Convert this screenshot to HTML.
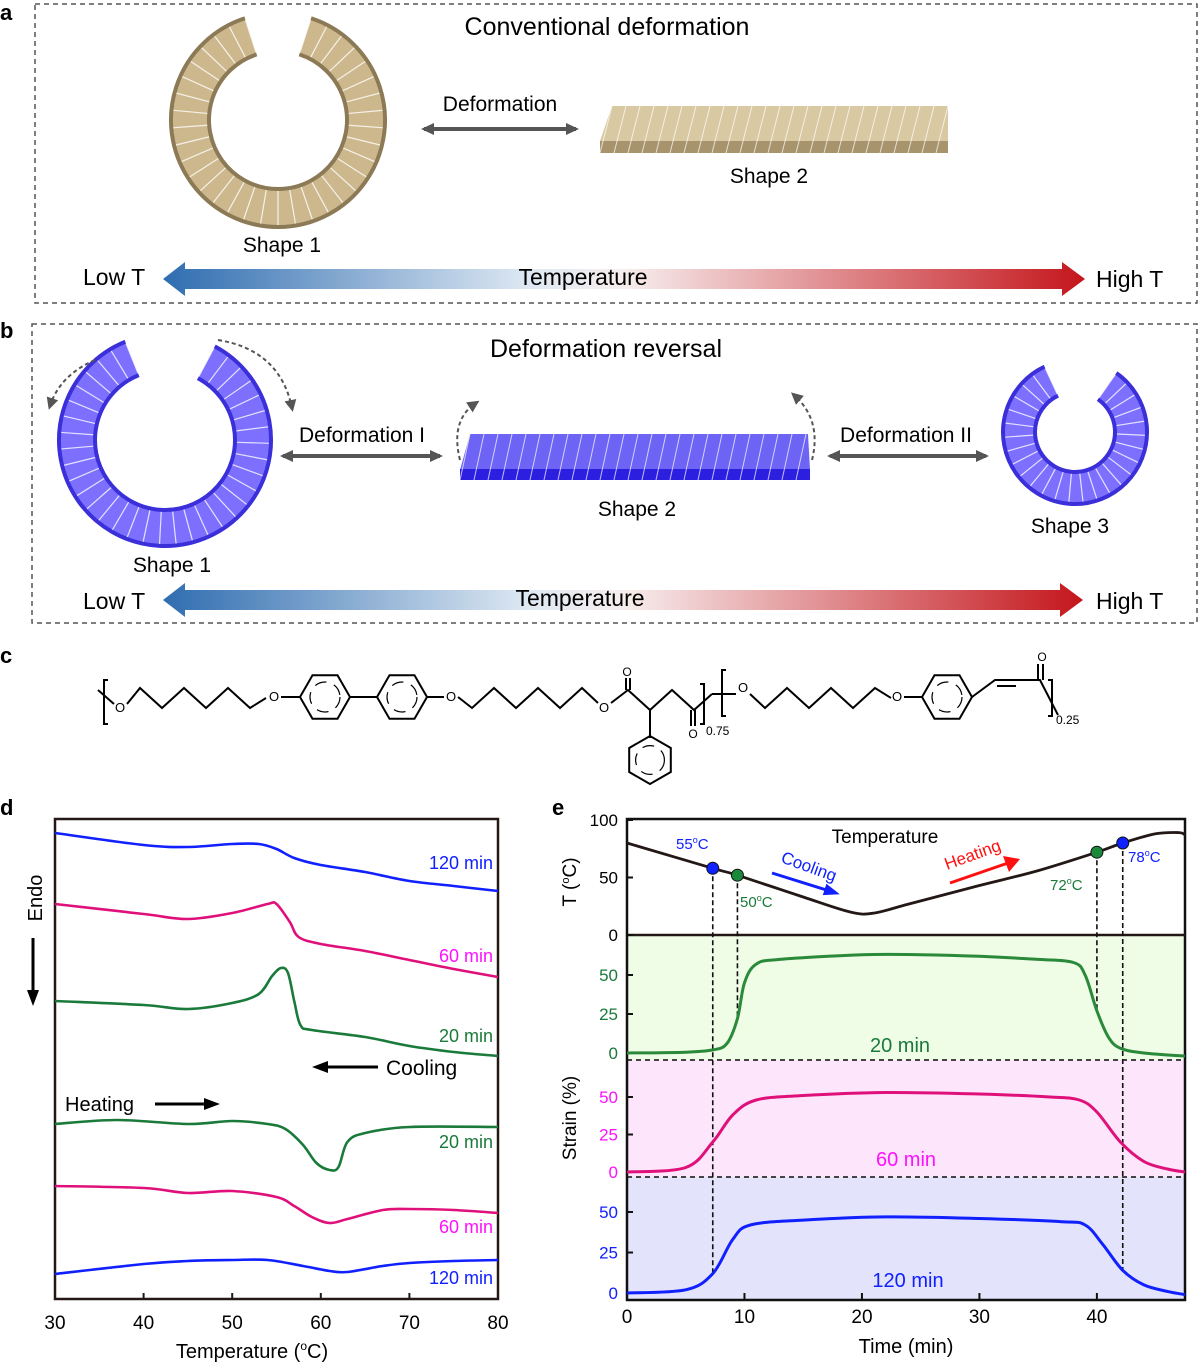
<!DOCTYPE html>
<html><head><meta charset="utf-8">
<style>
html,body{margin:0;padding:0;background:#fff;}
svg{display:block;font-family:"Liberation Sans",Arial,sans-serif;}
</style></head>
<body>
<svg id="fig" width="1200" height="1363" viewBox="0 0 1200 1363" xmlns="http://www.w3.org/2000/svg">
<defs>
<linearGradient id="tg" x1="0" x2="1" y1="0" y2="0">
<stop offset="0" stop-color="#2f6db0"/><stop offset="0.4" stop-color="#dfe9f3"/><stop offset="0.5" stop-color="#f7eeee"/><stop offset="1" stop-color="#c4161c"/>
</linearGradient>
<marker id="ah" markerUnits="userSpaceOnUse" markerWidth="14" markerHeight="14" refX="10" refY="7" orient="auto-start-reverse"><path d="M0,1 L13,7 L0,13 z" fill="#555"/></marker>
<marker id="ahs" markerUnits="userSpaceOnUse" markerWidth="12" markerHeight="12" refX="8" refY="6" orient="auto"><path d="M0,0 L12,6 L0,12 z" fill="#555"/></marker>
<marker id="ahk" markerUnits="userSpaceOnUse" markerWidth="16" markerHeight="14" refX="12" refY="7" orient="auto"><path d="M0,1 L16,7 L0,13 z" fill="#000"/></marker>
<marker id="ahb" markerUnits="userSpaceOnUse" markerWidth="16" markerHeight="14" refX="12" refY="7" orient="auto"><path d="M0,1 L16,7 L0,13 z" fill="#1020ff"/></marker>
</defs>

<!-- Panel a -->
<g>
<text x="0" y="20" font-size="22" font-weight="bold">a</text>
<rect x="35" y="4" width="1162" height="299" fill="none" stroke="#555" stroke-width="1.5" stroke-dasharray="5,4"/>
<text x="607" y="35" font-size="25" text-anchor="middle">Conventional deformation</text>
<g id="ringA"></g>
<text x="282" y="252" font-size="21" text-anchor="middle">Shape 1</text>
<line x1="424" y1="129" x2="576" y2="129" stroke="#555" stroke-width="4" marker-end="url(#ah)" marker-start="url(#ah)"/>
<text x="500" y="111" font-size="21" text-anchor="middle">Deformation</text>
<g>
<polygon points="600,141 612,106 948,106 948,141" fill="#d9c9a2"/>
<rect x="600" y="141" width="348" height="12" fill="#a8946c"/>
<g id="slabA"></g>
</g>
<text x="769" y="183" font-size="21" text-anchor="middle">Shape 2</text>
<polygon points="185,269 1062,269 1062,262 1085,279 1062,296 1062,289 185,289 185,296 163,279 185,262" fill="url(#tg)"/>
<text x="583" y="285" font-size="23" text-anchor="middle">Temperature</text>
<text x="83" y="285" font-size="23">Low T</text>
<text x="1096" y="287" font-size="23">High T</text>
</g>

<!-- Panel b -->
<g>
<text x="0" y="338" font-size="22" font-weight="bold">b</text>
<rect x="32" y="324" width="1165" height="299" fill="none" stroke="#555" stroke-width="1.5" stroke-dasharray="5,4"/>
<text x="606" y="357" font-size="25" text-anchor="middle">Deformation reversal</text>
<g id="ringB1"></g>
<g id="ringB3"></g>
<path d="M95,360 Q60,375 50,406" fill="none" stroke="#555" stroke-width="2" stroke-dasharray="4,3" marker-end="url(#ahs)"/>
<path d="M218,340 Q280,350 292,408" fill="none" stroke="#555" stroke-width="2" stroke-dasharray="4,3" marker-end="url(#ahs)"/>
<path d="M460,460 Q450,420 476,403" fill="none" stroke="#555" stroke-width="2" stroke-dasharray="4,3" marker-end="url(#ahs)"/>
<path d="M812,460 Q822,420 794,395" fill="none" stroke="#555" stroke-width="2" stroke-dasharray="4,3" marker-end="url(#ahs)"/>
<line x1="283" y1="456" x2="440" y2="456" stroke="#555" stroke-width="4" marker-end="url(#ah)" marker-start="url(#ah)"/>
<text x="362" y="442" font-size="21" text-anchor="middle">Deformation I</text>
<line x1="830" y1="456" x2="986" y2="456" stroke="#555" stroke-width="4" marker-end="url(#ah)" marker-start="url(#ah)"/>
<text x="906" y="442" font-size="21" text-anchor="middle">Deformation II</text>
<g>
<polygon points="460,470 470,434 808,434 810,470" fill="#6d63f5"/>
<rect x="460" y="469" width="350" height="11" fill="#2d1fe0"/>
<g id="slabB"></g>
</g>
<text x="637" y="516" font-size="21" text-anchor="middle">Shape 2</text>
<text x="172" y="572" font-size="21" text-anchor="middle">Shape 1</text>
<text x="1070" y="533" font-size="21" text-anchor="middle">Shape 3</text>
<polygon points="185,590 1060,590 1060,583 1083,600 1060,617 1060,610 185,610 185,617 163,600 185,583" fill="url(#tg)"/>
<text x="580" y="606" font-size="23" text-anchor="middle">Temperature</text>
<text x="83" y="609" font-size="23">Low T</text>
<text x="1096" y="609" font-size="23">High T</text>
</g>

<!-- Panel c -->
<g stroke="#000" stroke-width="2" fill="none" font-size="13">
<text x="0" y="663" font-size="22" font-weight="bold" fill="#000" stroke="none">c</text>
<path d="M108,680 L104,680 L104,724 L108,724 M700,684 L704,684 L704,724 L700,724 M726,670 L722,670 L722,716 L726,716 M1048,680 L1052,680 L1052,716 L1048,716"/>
<polyline points="98,690 114,704"/>
<polyline points="127,704 140,688 162,708 184,688 206,708 228,688 250,708 266,698"/>
<polyline points="281,697 300,697"/>
<polyline points="350,697 377,697"/>
<polyline points="427,697 444,697"/>
<polyline points="458,697 472,708 494,688 516,708 538,688 560,708 582,688 598,703"/>
<polyline points="611,703 628,690 650,710 672,690 694,710 712,694"/>
<line x1="626" y1="690" x2="626" y2="678"/><line x1="630" y1="690" x2="630" y2="678"/>
<line x1="691" y1="710" x2="691" y2="726"/><line x1="695" y1="710" x2="695" y2="726"/>
<line x1="650" y1="710" x2="650" y2="738"/>
<polyline points="712,694 736,694"/>
<polyline points="750,694 765,708 787,688 809,708 831,688 853,708 875,688 891,698"/>
<polyline points="904,697 922,697"/>
<polyline points="972,697 995,680 1018,680 1040,680 1058,715"/>
<line x1="997" y1="686" x2="1016" y2="686"/>
<line x1="1038" y1="680" x2="1038" y2="664"/><line x1="1043" y1="680" x2="1043" y2="664"/>
<g id="hexes"></g>
<g stroke="none" fill="#000">
<text x="120" y="712" text-anchor="middle">O</text>
<text x="274" y="701" text-anchor="middle">O</text>
<text x="451" y="701" text-anchor="middle">O</text>
<text x="604" y="712" text-anchor="middle">O</text>
<text x="627" y="676" text-anchor="middle" font-size="12">O</text>
<text x="693" y="738" text-anchor="middle" font-size="12">O</text>
<text x="743" y="692" text-anchor="middle">O</text>
<text x="897" y="701" text-anchor="middle">O</text>
<text x="1042" y="661" text-anchor="middle" font-size="12">O</text>
<text x="706" y="735" font-size="12">0.75</text>
<text x="1056" y="724" font-size="12">0.25</text>
</g>
</g>

<!-- Panel d -->
<g>
<text x="0" y="815" font-size="22" font-weight="bold">d</text>
<rect x="55" y="819" width="443" height="480" fill="none" stroke="#231815" stroke-width="2.5"/>
<g id="dAxis"></g>
<g id="dCurves"></g>
<text x="252" y="1358" font-size="20" text-anchor="middle">Temperature (<tspan font-size="12" dy="-8">o</tspan><tspan dy="8">C)</tspan></text>
<text transform="translate(42,898) rotate(-90)" font-size="20" text-anchor="middle">Endo</text>
<line x1="33" y1="938" x2="33" y2="1002" stroke="#000" stroke-width="3" marker-end="url(#ahk)"/>
<line x1="378" y1="1067" x2="316" y2="1067" stroke="#000" stroke-width="3" marker-end="url(#ahk)"/>
<text x="386" y="1075" font-size="21">Cooling</text>
<text x="65" y="1111" font-size="20">Heating</text>
<line x1="155" y1="1104" x2="216" y2="1104" stroke="#000" stroke-width="3" marker-end="url(#ahk)"/>
</g>

<!-- Panel e -->
<g>
<text x="552" y="815" font-size="22" font-weight="bold">e</text>
<rect x="627" y="935" width="558" height="125" fill="#effce6"/>
<rect x="627" y="1060" width="558" height="117" fill="#fde6fb"/>
<rect x="627" y="1177" width="558" height="123" fill="#e3e3fb"/>
<line x1="627" y1="1060" x2="1185" y2="1060" stroke="#444" stroke-width="2" stroke-dasharray="5,4"/>
<line x1="627" y1="1177" x2="1185" y2="1177" stroke="#444" stroke-width="2" stroke-dasharray="5,4"/>
<rect x="627" y="819" width="558" height="481" fill="none" stroke="#111" stroke-width="2.5"/>
<line x1="627" y1="935" x2="1185" y2="935" stroke="#231815" stroke-width="2.5"/>
<g id="eAxis"></g>
<g id="eCurves"></g>
<text x="885" y="843" font-size="19" text-anchor="middle">Temperature</text>
<text transform="translate(576,882) rotate(-90)" font-size="19" text-anchor="middle">T (<tspan font-size="11" dy="-7">o</tspan><tspan dy="7">C)</tspan></text>
<text transform="translate(576,1118) rotate(-90)" font-size="19" text-anchor="middle">Strain (%)</text>
<text x="906" y="1353" font-size="20" text-anchor="middle">Time (min)</text>
<line x1="772" y1="873" x2="836" y2="893" stroke="#1020ff" stroke-width="3" marker-end="url(#ahb)"/>
<text transform="translate(780,862) rotate(20)" font-size="17" fill="#1020ff">Cooling</text>
<line x1="950" y1="883" x2="1008" y2="863" stroke="#ff1010" stroke-width="3"/>
<polygon points="1020,859 1003,856 1009,872" fill="#ff1010"/>
<text transform="translate(947,870) rotate(-20)" font-size="17" fill="#ff1010">Heating</text>
<text x="676" y="849" font-size="15" fill="#1020ff">55<tspan font-size="9" dy="-6">o</tspan><tspan dy="6">C</tspan></text>
<text x="740" y="907" font-size="15" fill="#1a7a3a">50<tspan font-size="9" dy="-6">o</tspan><tspan dy="6">C</tspan></text>
<text x="1050" y="890" font-size="15" fill="#1a7a3a">72<tspan font-size="9" dy="-6">o</tspan><tspan dy="6">C</tspan></text>
<text x="1128" y="862" font-size="15" fill="#1020ff">78<tspan font-size="9" dy="-6">o</tspan><tspan dy="6">C</tspan></text>
<text x="900" y="1052" font-size="20" fill="#1a7a3a" text-anchor="middle">20 min</text>
<text x="906" y="1166" font-size="20" fill="#ff10ff" text-anchor="middle">60 min</text>
<text x="908" y="1287" font-size="20" fill="#1020ff" text-anchor="middle">120 min</text>
</g>
</svg>

<script>
// ===== Panel d data (DSC, arbitrary heat-flow units = offset above plot bottom) =====
const dscTempCool120 = [30,40,45,50,53,55,57,60,65,70,75,80];
const dscFlowCool120 = [467,455,453,456,456,451,442,435,428,419,414,409];
const dscTempCool60 = [30,40,45,50,54,55,56.5,57.5,60,65,70,75,80];
const dscFlowCool60 = [396,386,381,387,396,396,378,363,356,349,340,331,323];
const dscTempCool20 = [30,40,45,50,53,54.5,55.5,56.3,57,57.7,59,65,70,75,80];
const dscFlowCool20 = [299,295,291,297,306,324,332,327,299,275,270,263,254,248,244];
const dscTempHeat20 = [30,37,45,50,54,56,58,59.5,61,62,63,65,70,80];
const dscFlowHeat20 = [176,180,176,179,176,171,155,137,130,133,158,167,173,173];
const dscTempHeat60 = [30,40,45,50,55,57,59,61,63,67,70,75,80];
const dscFlowHeat60 = [114,112,107,109,103,94,83,77,81,90,91,90,87];
const dscTempHeat120 = [30,40,45,50,54,58,61,63,67,70,75,80];
const dscFlowHeat120 = [26,36,39,40,40,34,29,28,34,37,39,40];
const dscXTicks = [30,40,50,60,70,80];

// ===== Panel e data =====
const timeTemp = [0,7.3,9.4,15,19,21,24,30,35,40,42.2,45,47,47.5];
const tempValues = [80,58,52,33,20,19,27,43,56,72,80,88,89,87];
const markTimes = [7.3,9.4,40,42.2];
const markTemps = [58,52,72,80];
const timeStrain20 = [0,5,7.3,8.5,9.4,10,11,13,20,25,30,35,38,39,40,41,42,44,47.5];
const strain20 = [0,0.5,2,6,22,45,57,60,63,63,62,60,58,50,27,10,3,0,-2];
const timeStrain60 = [0,5,7.3,9,11,15,22,30,36,38.5,40,42,44,46,47.5];
const strain60 = [0,3,20,38,48,51,53,52,50,48,40,20,7,2,0];
const timeStrain120 = [0,5,7.3,9,10.5,15,22,30,37,39,40.5,42.2,44,46,47.5];
const strain120 = [0,2,12,33,42,45,47,46,44,42,30,14,5,1,-1];
const timeTicks = [0,10,20,30,40];
const tempTicks = [0,50,100];
const strainTicks = [0,25,50];

const NS = "http://www.w3.org/2000/svg";
function mk(tag, attrs, parent){const e=document.createElementNS(NS,tag);for(const k in attrs)e.setAttribute(k,attrs[k]);parent.appendChild(e);return e;}
function smooth(pts){let d="M"+pts[0][0]+","+pts[0][1];for(let i=0;i<pts.length-1;i++){const p0=pts[i-1]||pts[i],p1=pts[i],p2=pts[i+1],p3=pts[i+2]||p2;const c1x=p1[0]+(p2[0]-p0[0])/6,c1y=p1[1]+(p2[1]-p0[1])/6,c2x=p2[0]-(p3[0]-p1[0])/6,c2y=p2[1]-(p3[1]-p1[1])/6;d+=" C"+c1x.toFixed(1)+","+c1y.toFixed(1)+" "+c2x.toFixed(1)+","+c2y.toFixed(1)+" "+p2[0].toFixed(1)+","+p2[1].toFixed(1);}return d;}

// ---- rings & slabs
function ring(g,cx,cy,r,w,col,dark,a1,a2,n){
  const rad=a=>a*Math.PI/180;
  const p=(a,rr)=>[cx+rr*Math.cos(rad(a)),cy+rr*Math.sin(rad(a))];
  const s=p(a1,r),e=p(a2,r);
  mk('path',{d:`M${s[0]},${s[1]} A${r},${r} 0 1 1 ${e[0]},${e[1]}`,fill:'none',stroke:dark,'stroke-width':w+8},g);
  mk('path',{d:`M${s[0]},${s[1]} A${r},${r} 0 1 1 ${e[0]},${e[1]}`,fill:'none',stroke:col,'stroke-width':w},g);
  const span=(a2-a1+360)%360;
  for(let i=0;i<=n;i++){const a=a1+span*i/n;const q1=p(a,r-w/2),q2=p(a,r+w/2);
    mk('line',{x1:q1[0],y1:q1[1],x2:q2[0],y2:q2[1],stroke:'#fff','stroke-width':1.2,opacity:0.8},g);}
}
ring(document.getElementById('ringA'),278,120,88,34,'#cdb88e','#8b7a55',-72,-108,34);
ring(document.getElementById('ringB1'),165,440,88,32,'#7d70ff','#3a2fd8',-62,-112,34);
ring(document.getElementById('ringB3'),1075,432,56,28,'#7d70ff','#3a2fd8',-55,-115,26);
(function(){const a=document.getElementById('slabA');for(let i=0;i<=24;i++){const x=612+i*14;mk('line',{x1:x,y1:106,x2:x-12,y2:153,stroke:'#fff','stroke-width':1,opacity:0.7},a);}
const b=document.getElementById('slabB');for(let i=0;i<=24;i++){const x=470+i*14;mk('line',{x1:x,y1:434,x2:x-10,y2:480,stroke:'#fff','stroke-width':1,opacity:0.7},b);}})();

// ---- hexagons
(function(){const g=document.getElementById('hexes');
function hex(cx,cy,r,vert){let pts=[];for(let i=0;i<6;i++){const a=(vert?90:0)+60*i;pts.push((cx+r*Math.cos(a*Math.PI/180)).toFixed(1)+","+(cy+r*Math.sin(a*Math.PI/180)).toFixed(1));}
mk('polygon',{points:pts.join(' '),fill:'none',stroke:'#000','stroke-width':2},g);
mk('circle',{cx:cx,cy:cy,r:r*0.6,fill:'none',stroke:'#000','stroke-width':1.2,'stroke-dasharray':'12,8'},g);}
hex(325,697,25,false);hex(402,697,25,false);hex(947,697,25,false);hex(650,760,24,true);})();

// ---- Panel d
const dx=t=>55+(t-30)*(443/50);
const dy=v=>1300-v;
(function(){const ax=document.getElementById('dAxis');
dscXTicks.forEach(t=>{const l=mk('line',{x1:dx(t),y1:1299,x2:dx(t),y2:1293,stroke:'#231815','stroke-width':2},ax);


const tx=mk('text',{x:dx(t),y:1329,'font-size':19,'text-anchor':'middle'},ax);tx.textContent=t;

});
const cg=document.getElementById('dCurves');
const series=[[dscTempCool120,dscFlowCool120,'#1020ff','120 min',863,'dsc-cooling-120min'],[dscTempCool60,dscFlowCool60,'#e0107a','60 min',956,'dsc-cooling-60min'],[dscTempCool20,dscFlowCool20,'#1a7a3a','20 min',1036,'dsc-cooling-20min'],[dscTempHeat20,dscFlowHeat20,'#1a7a3a','20 min',1142,'dsc-heating-20min'],[dscTempHeat60,dscFlowHeat60,'#e0107a','60 min',1227,'dsc-heating-60min'],[dscTempHeat120,dscFlowHeat120,'#1020ff','120 min',1278,'dsc-heating-120min']];
series.forEach(s=>{const pts=s[0].map((t,i)=>[dx(t),dy(s[1][i])]);
const p=mk('path',{d:smooth(pts),fill:'none',stroke:s[2],'stroke-width':2.6},cg);


const tx=mk('text',{x:493,y:s[4]+6,'font-size':18,'text-anchor':'end',fill:s[2]==='#e0107a'?'#ff10ff':s[2]},cg);tx.textContent=s[3];

});})();

// ---- Panel e
const ex=t=>627+t*(558/47.5);
const eyT=v=>935-v*1.15;
const ey20=v=>1053-v*1.56;
const ey60=v=>1172-v*1.5;
const ey120=v=>1293-v*1.62;
(function(){const ax=document.getElementById('eAxis');
timeTicks.forEach(t=>{const l=mk('line',{x1:ex(t),y1:1299,x2:ex(t),y2:1293,stroke:'#111','stroke-width':2},ax);


const tx=mk('text',{x:ex(t),y:1323,'font-size':19,'text-anchor':'middle'},ax);tx.textContent=t;

});
tempTicks.forEach(v=>{const tx=mk('text',{x:618,y:eyT(v)+6,'font-size':17,'text-anchor':'end'},ax);tx.textContent=v;


mk('line',{x1:627,y1:eyT(v),x2:633,y2:eyT(v),stroke:'#111','stroke-width':2},ax);});
[[ey20,'#1a7a3a'],[ey60,'#ff10ff'],[ey120,'#1020ff']].forEach(f=>{strainTicks.forEach(v=>{const tx=mk('text',{x:618,y:f[0](v)+6,'font-size':17,'text-anchor':'end',fill:f[1]},ax);tx.textContent=v;


mk('line',{x1:627,y1:f[0](v),x2:633,y2:f[0](v),stroke:'#111','stroke-width':2},ax);});});
const cg=document.getElementById('eCurves');
markTimes.forEach((t,i)=>{const l=mk('line',{x1:ex(t),y1:eyT(markTemps[i]),x2:ex(t),y2:(i===0||i===3)?ey120(i===0?strain120[2]:strain120[11]):ey20(i===1?strain20[4]:strain20[14]),stroke:'#111','stroke-width':1.6,'stroke-dasharray':'5,3'},cg);

});
const tp=mk('path',{d:smooth(timeTemp.map((t,i)=>[ex(t),eyT(tempValues[i])])),fill:'none',stroke:'#231815','stroke-width':2.8},cg);


[[timeStrain20,strain20,ey20,'#2a8a3a','strain-20min-line'],[timeStrain60,strain60,ey60,'#e0107a','strain-60min-line'],[timeStrain120,strain120,ey120,'#1020ff','strain-120min-line']].forEach(s=>{
const p=mk('path',{d:smooth(s[0].map((t,i)=>[ex(t),s[2](s[1][i])])),fill:'none',stroke:s[3],'stroke-width':3},cg);

});
markTimes.forEach((t,i)=>{const c=mk('circle',{cx:ex(t),cy:eyT(markTemps[i]),r:6,fill:(i===0||i===3)?'#1020ff':'#1a8a3a',stroke:'#111','stroke-width':1},cg);

});})();
</script>
</body></html>
